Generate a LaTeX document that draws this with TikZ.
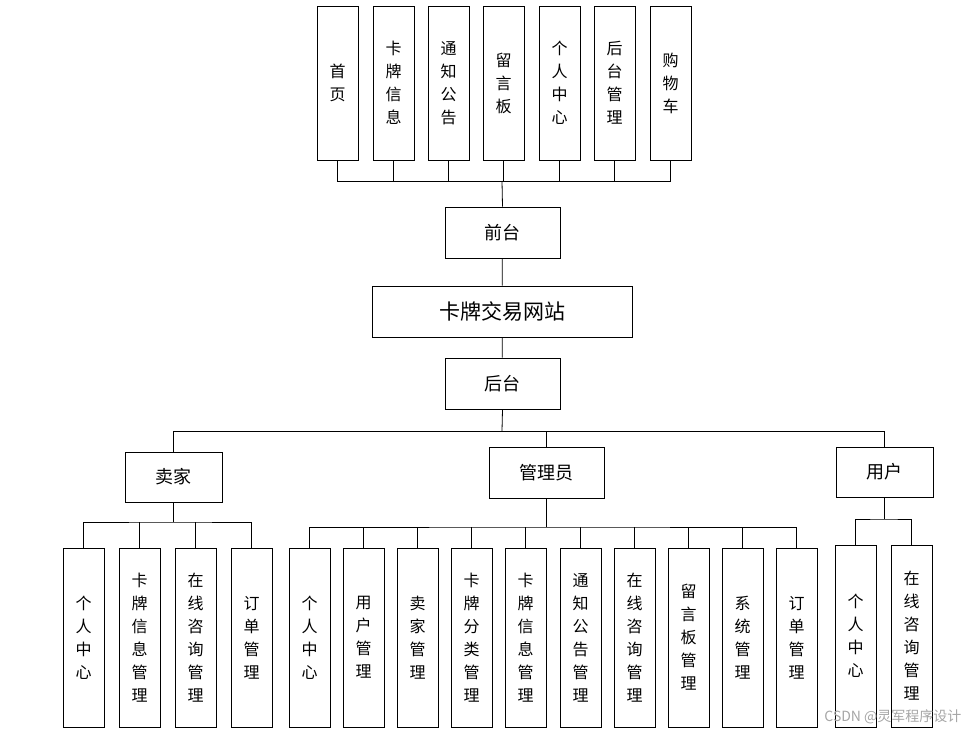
\documentclass[tikz,border=0pt]{standalone}
\usepackage{fontspec}
\newfontfamily\cjk{Noto Sans CJK SC}
\begin{document}
\begin{tikzpicture}[x=1pt,y=-1pt,
  vbox/.style={draw,thick,minimum width=41pt,align=center,font=\cjk\fontsize{16}{23}\selectfont,inner sep=0pt},
  hbox/.style={draw,thick,align=center,font=\cjk\fontsize{18}{22}\selectfont,inner sep=0pt},
  ln/.style={thick}]
\useasboundingbox[fill=white] (0,0) rectangle (978,736);
% top
\foreach \n/\x/\t in {t1/337.5/首\\页, t2/393.5/卡\\牌\\信\\息, t3/448.5/通\\知\\公\\告, t4/503.5/留\\言\\板, t5/559.5/个\\人\\中\\心, t6/614.5/后\\台\\管\\理, t7/670.5/购\\物\\车}
  \node[vbox,minimum height=154pt] (\n) at (\x,83) {\t};
\node[hbox,minimum width=115pt,minimum height=51pt] (ft) at (502.5,232.5) {前台};
\node[hbox,minimum width=260pt,minimum height=51pt,font=\cjk\fontsize{21}{24}\selectfont] (site) at (502,311.5) {卡牌交易网站};
\node[hbox,minimum width=115pt,minimum height=51pt] (bt) at (502.5,383.5) {后台};
\coordinate (tb) at (502,181);
\foreach \n in {t1,t2,t3,t4,t5,t6,t7} \draw[ln] (\n.south) |- (tb);
\draw[ln] (tb) -- (ft.north);
\draw[ln] (ft) -- (site);
\draw[ln] (site) -- (bt);
% middle
\node[hbox,minimum width=97pt,minimum height=50pt] (seller) at (173.5,477) {卖家};
\node[hbox,minimum width=115pt,minimum height=51pt] (admin) at (546.5,472.5) {管理员};
\node[hbox,minimum width=97pt,minimum height=50pt] (user) at (884.5,472) {用户};
\coordinate (bb) at (502,431);
\draw[ln] (bt.south) -- (bb);
\draw[ln] (seller.north) |- (user.north |- bb) -- (user.north);
\draw[ln] (admin.north) -- (admin.north |- bb);
% seller children
\foreach \n/\x/\t in {s1/83.5/个\\人\\中\\心, s2/139.5/卡\\牌\\信\\息\\管\\理, s3/195.5/在\\线\\咨\\询\\管\\理, s4/251.5/订\\单\\管\\理}
  \node[vbox,minimum height=179pt] (\n) at (\x,637.5) {\t};
\draw[ln] (seller.south) -- (173.5,522);
\draw[ln] (s1.north) |- (173.5,522) -| (s4.north);
\draw[ln] (s2.north) -- (s2.north |- 0,522);
\draw[ln] (s3.north) -- (s3.north |- 0,522);
% admin children
\foreach \n/\x/\t in {a1/309.5/个\\人\\中\\心, a2/363.5/用\\户\\管\\理, a3/417.5/卖\\家\\管\\理, a4/471.5/卡\\牌\\分\\类\\管\\理, a5/525.5/卡\\牌\\信\\息\\管\\理, a6/580.5/通\\知\\公\\告\\管\\理, a7/634.5/在\\线\\咨\\询\\管\\理, a8/688.5/留\\言\\板\\管\\理, a9/742.5/系\\统\\管\\理, a10/796.5/订\\单\\管\\理}
  \node[vbox,minimum height=179pt] (\n) at (\x,637.5) {\t};
\draw[ln] (admin.south) -- (546.5,527);
\draw[ln] (a1.north) |- (546.5,527) -| (a10.north);
\foreach \n in {a2,a3,a4,a5,a6,a7,a8,a9} \draw[ln] (\n.north) -- (\n.north |- 0,527);
% user children
\foreach \n/\x/\t in {u1/855.5/个\\人\\中\\心, u2/911.5/在\\线\\咨\\询\\管\\理}
  \node[vbox,minimum height=182pt] (\n) at (\x,636) {\t};
\draw[ln] (user.south) -- (884.5,519);
\draw[ln] (u1.north) |- (884.5,519) -| (u2.north);
\node[font=\cjk\fontsize{14}{16}\selectfont,text=gray!70,anchor=east] (wm) at (965,717) {CSDN @灵军程序设计};
\end{tikzpicture}
\end{document}
